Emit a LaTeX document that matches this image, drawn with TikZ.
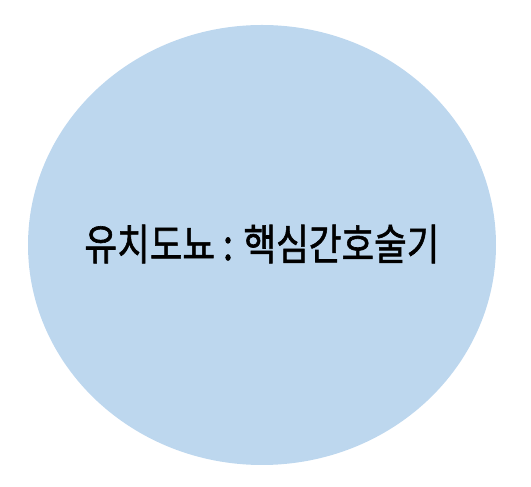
\documentclass[tikz,border=0pt]{standalone}
\usepackage{fontspec}
\newfontfamily\kor[FakeBold=1.5]{Noto Sans CJK KR}
\usetikzlibrary{shapes.geometric}
\definecolor{lightblue}{HTML}{BDD7EE}

\begin{document}
\begin{tikzpicture}[x=1pt, y=1pt]
        \useasboundingbox (0,0) rectangle (531,487);
        \node [ellipse, fill=lightblue, inner sep=0pt,
               minimum width=468pt, minimum height=440pt] (topic) at (262,242) {};
        \node [font=\kor\fontsize{35.5}{40}\selectfont, inner sep=0pt] (title) at (262,243)
              {\scalebox{1}[1.2]{유치도뇨 : 핵심간호술기}};
      \end{tikzpicture}
\end{document}
